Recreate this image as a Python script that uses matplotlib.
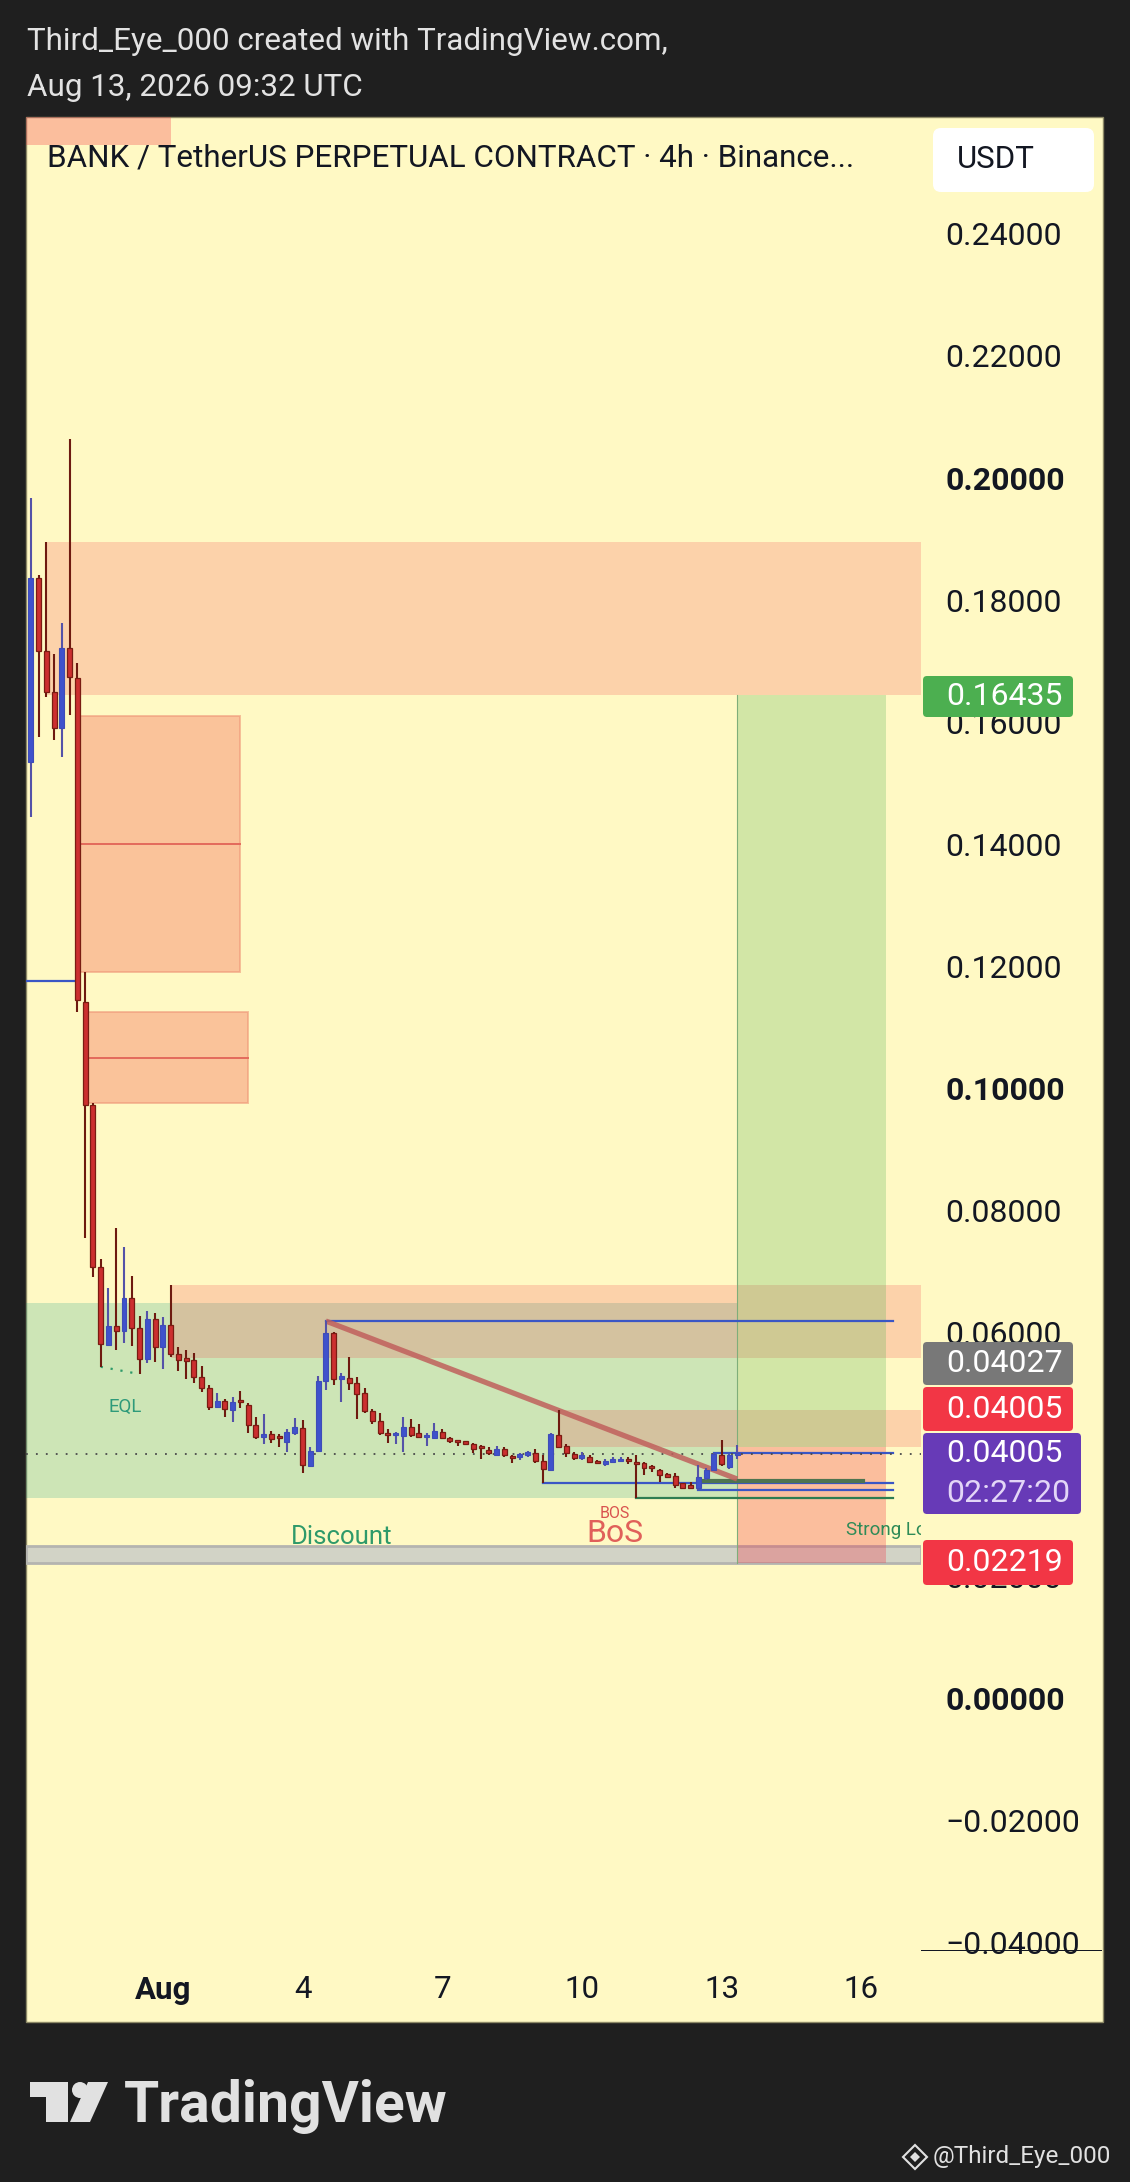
import matplotlib
matplotlib.use("Agg")
import matplotlib.pyplot as plt
import matplotlib.dates as mdates
from matplotlib.patches import Rectangle, FancyBboxPatch, Polygon, Circle
import numpy as np
import pandas as pd

plt.rcParams['font.family'] = ['Roboto', 'DejaVu Sans']

# BANK / USDT perpetual, 4h bars starting 29 Jul 04:00 UTC
first_bar = "2026-07-29 04:00"
opens = [0.1534, 0.1836, 0.1716, 0.1649, 0.1590, 0.1721, 0.1672, 0.1141, 0.0972, 0.0707,
         0.0579, 0.0610, 0.0602, 0.0656, 0.0607, 0.0556, 0.0621, 0.0575, 0.0611, 0.0564,
         0.0557, 0.0554, 0.0526, 0.0508, 0.0477, 0.0487, 0.0472, 0.0489, 0.0480, 0.0448,
         0.0428, 0.0433, 0.0428, 0.0420, 0.0434, 0.0443, 0.0380, 0.0405, 0.0520, 0.0598,
         0.0523, 0.0525, 0.0516, 0.0500, 0.0470, 0.0454, 0.0434, 0.0431, 0.0430, 0.0444,
         0.0434, 0.0428, 0.0426, 0.0436, 0.0426, 0.0423, 0.0421, 0.0416, 0.0413, 0.0407,
         0.0398, 0.0408, 0.0397, 0.0395, 0.0398, 0.0402, 0.0389, 0.0374, 0.0431, 0.0413,
         0.0400, 0.0393, 0.0395, 0.0389, 0.0384, 0.0387, 0.0389, 0.0392, 0.0387, 0.0385,
         0.0379, 0.0374, 0.0367, 0.0364, 0.0352, 0.0349, 0.0344, 0.0361, 0.0374, 0.0398,
         0.0379, 0.0398]
highs = [0.1967, 0.1841, 0.1895, 0.1711, 0.1762, 0.2064, 0.1697, 0.1190, 0.0975, 0.0720,
         0.0672, 0.0770, 0.0739, 0.0692, 0.0626, 0.0634, 0.0631, 0.0625, 0.0677, 0.0575,
         0.0570, 0.0566, 0.0544, 0.0513, 0.0500, 0.0490, 0.0493, 0.0503, 0.0484, 0.0461,
         0.0466, 0.0438, 0.0433, 0.0441, 0.0459, 0.0456, 0.0411, 0.0528, 0.0618, 0.0600,
         0.0533, 0.0559, 0.0526, 0.0508, 0.0474, 0.0467, 0.0441, 0.0436, 0.0461, 0.0457,
         0.0449, 0.0434, 0.0451, 0.0441, 0.0428, 0.0423, 0.0421, 0.0418, 0.0415, 0.0411,
         0.0413, 0.0411, 0.0398, 0.0402, 0.0405, 0.0408, 0.0398, 0.0434, 0.0472, 0.0416,
         0.0403, 0.0403, 0.0398, 0.0390, 0.0392, 0.0395, 0.0395, 0.0395, 0.0398, 0.0387,
         0.0382, 0.0375, 0.0369, 0.0369, 0.0352, 0.0354, 0.0382, 0.0377, 0.0402, 0.0423,
         0.0400, 0.0415]
lows = [0.1444, 0.1575, 0.1641, 0.1570, 0.1543, 0.1611, 0.1125, 0.0754, 0.0690, 0.0543,
        0.0577, 0.0570, 0.0582, 0.0577, 0.0531, 0.0549, 0.0551, 0.0539, 0.0559, 0.0536,
        0.0523, 0.0516, 0.0502, 0.0472, 0.0475, 0.0461, 0.0452, 0.0475, 0.0434, 0.0425,
        0.0416, 0.0418, 0.0411, 0.0403, 0.0431, 0.0369, 0.0379, 0.0403, 0.0505, 0.0513,
        0.0485, 0.0505, 0.0457, 0.0467, 0.0449, 0.0431, 0.0418, 0.0416, 0.0403, 0.0428,
        0.0426, 0.0413, 0.0425, 0.0425, 0.0418, 0.0413, 0.0415, 0.0402, 0.0392, 0.0398,
        0.0397, 0.0395, 0.0385, 0.0390, 0.0395, 0.0385, 0.0353, 0.0372, 0.0410, 0.0395,
        0.0390, 0.0390, 0.0385, 0.0384, 0.0380, 0.0385, 0.0387, 0.0384, 0.0328, 0.0366,
        0.0370, 0.0354, 0.0362, 0.0344, 0.0344, 0.0344, 0.0341, 0.0357, 0.0372, 0.0380,
        0.0375, 0.0392]
closes = [0.1836, 0.1716, 0.1649, 0.1590, 0.1721, 0.1674, 0.1144, 0.0972, 0.0707, 0.0580,
          0.0610, 0.0602, 0.0656, 0.0607, 0.0556, 0.0621, 0.0575, 0.0611, 0.0564, 0.0554,
          0.0552, 0.0526, 0.0508, 0.0477, 0.0487, 0.0474, 0.0485, 0.0485, 0.0448, 0.0428,
          0.0433, 0.0425, 0.0426, 0.0436, 0.0444, 0.0382, 0.0405, 0.0520, 0.0598, 0.0523,
          0.0528, 0.0516, 0.0498, 0.0470, 0.0454, 0.0434, 0.0431, 0.0434, 0.0444, 0.0431,
          0.0428, 0.0431, 0.0438, 0.0426, 0.0421, 0.0420, 0.0416, 0.0408, 0.0410, 0.0402,
          0.0408, 0.0398, 0.0393, 0.0400, 0.0403, 0.0389, 0.0375, 0.0433, 0.0411, 0.0402,
          0.0393, 0.0398, 0.0387, 0.0385, 0.0389, 0.0392, 0.0392, 0.0389, 0.0384, 0.0377,
          0.0377, 0.0366, 0.0362, 0.0349, 0.0344, 0.0344, 0.0362, 0.0374, 0.0400, 0.0384,
          0.0398, 0.04005]

# drawings on the chart
supply_starts = ["2026-07-29 12:00", "2026-08-01 04:00", "2026-08-09 12:00"]
supply_lows = [0.16435, 0.0557, 0.0411]
supply_highs = [0.1895, 0.0677, 0.0472]
ob_starts = ["2026-07-30 04:00", "2026-07-30 08:00"]
ob_ends = ["2026-08-02 16:00", "2026-08-02 20:00"]
ob_lows = [0.1190, 0.0975]
ob_highs = [0.1610, 0.1125]
discount_low, discount_high = 0.0328, 0.0648
grey_low, grey_high = 0.0222, 0.0249
entry, target, stop = 0.0411, 0.16435, 0.02219
last_price = 0.04005

price_ticks = [-0.04, -0.02, 0.00, 0.02, 0.04, 0.06, 0.08, 0.10, 0.12, 0.14, 0.16, 0.18, 0.20, 0.22, 0.24]
bold_ticks = [0.00, 0.10, 0.20]
day_ticks = ["2026-08-01", "2026-08-04", "2026-08-07", "2026-08-10", "2026-08-13", "2026-08-16"]
day_labels = ["Aug", "4", "7", "10", "13", "16"]

BG = "#1f1f1f"
PANEL = "#fff9c4"
INK = "#131722"
RED = "#f23645"
BLUE_LINE = "#3a56c5"


def num(s):
    return mdates.date2num(pd.Timestamp(s))


times = pd.date_range(first_bar, periods=len(opens), freq="4h")
x = mdates.date2num(times)
o, h, l, c = (np.array(v) for v in (opens, highs, lows, closes))
x_left, x_right = num("2026-07-29 01:30"), num("2026-08-17 06:45")

fig = plt.figure(figsize=(11.3, 21.82), dpi=100, facecolor=BG)
fig.patches.append(Rectangle((26 / 1130, 1 - 2022 / 2182), 1077 / 1130, 1905 / 2182,
                             transform=fig.transFigure, facecolor=PANEL, edgecolor="#8c8866",
                             lw=1, zorder=-10))

ax = fig.add_axes([26 / 1130, 1 - 1950 / 2182, 895 / 1130, 1833 / 2182], zorder=2)
ax.set_facecolor("none")
ax.set_xlim(x_left, x_right)
ax.set_ylim(-0.04131, 0.25918)
for s in ax.spines.values():
    s.set_visible(False)


def box(t0, t1, lo, hi, **kw):
    ax.add_patch(Rectangle((t0, lo), t1 - t0, hi - lo, **kw))


# zones
box(x_left, num("2026-08-01 04:00"), 0.2546, 0.30, facecolor=RED, alpha=0.3, lw=0, zorder=1)
box(x_left, num("2026-08-13 08:00"), discount_low, discount_high, facecolor="#089981", alpha=0.2, lw=0, zorder=1)
for s0, lo, hi in zip(supply_starts, supply_lows, supply_highs):
    box(num(s0), x_right, lo, hi, facecolor=RED, alpha=0.2, lw=0, zorder=1.2)
box(x_left, x_right, grey_low, grey_high, facecolor="#d2d3c6", edgecolor="#b4b4b0", lw=2, zorder=1.3)
for s0, s1, lo, hi in zip(ob_starts, ob_ends, ob_lows, ob_highs):
    box(num(s0), num(s1), lo, hi, facecolor="#f8a07e", alpha=0.6, edgecolor="#ee9778", lw=1.4, zorder=1.5)
    ax.plot([num(s0), num(s1)], [(lo + hi) / 2] * 2, color="#e36a5c", lw=1.4, zorder=1.6)

# long position tool
t_pos0, t_pos1 = num("2026-08-13 08:00"), num("2026-08-16 12:45")
box(t_pos0, t_pos1, entry, target, facecolor="#4caf50", alpha=0.25, lw=0, zorder=1.4)
box(t_pos0, t_pos1, stop, entry, facecolor=RED, alpha=0.3, lw=0, zorder=1.4)
ax.plot([t_pos0, t_pos0], [stop, target], color="#7fae7a", lw=0.8, zorder=1.45)

# levels
ray_end = num("2026-08-16 16:20")
ax.plot([x_left, num("2026-07-30 04:00")], [0.1175, 0.1175], color=BLUE_LINE, lw=1.6, zorder=3)
ax.plot([num("2026-08-04 12:00"), ray_end], [0.0618, 0.0618], color=BLUE_LINE, lw=1.6, zorder=3)
ax.plot([num("2026-08-09 04:00"), ray_end], [0.0353, 0.0353], color=BLUE_LINE, lw=1.6, zorder=3)
ax.plot([num("2026-08-12 12:00"), ray_end], [0.0341, 0.0341], color=BLUE_LINE, lw=1.6, zorder=3)
ax.plot([num("2026-08-12 20:00"), ray_end], [0.0402, 0.0402], color=BLUE_LINE, lw=1.6, zorder=3)
ax.plot([num("2026-08-11 04:00"), ray_end], [0.0328, 0.0328], color="#2f7d52", lw=1.6, zorder=3)
ax.plot([num("2026-08-12 12:00"), num("2026-08-16 01:00")], [0.0356, 0.0356], color="#4d7450", lw=3, zorder=3)
ax.plot([x_left, x_right], [last_price, last_price], color="#4a4a4a", lw=1.3, ls=(0, (1, 4.5)), zorder=3)
ax.plot([num("2026-07-30 16:00"), num("2026-07-31 12:00")], [0.0543, 0.0531], color="#2e9a6a", lw=1.6,
        ls=(0, (1, 3.5)), zorder=3)
ax.plot([num("2026-08-04 12:00"), num("2026-08-13 08:00")], [0.0618, 0.0359], color="#c0605c", lw=3.8,
        alpha=0.85, solid_capstyle="butt", zorder=4)

# candles
up = c >= o
w = 4 / 24 * 0.64
body = np.maximum(np.abs(c - o), 0.0003)
ax.vlines(x[up], l[up], h[up], color="#5452a8", lw=1.5, zorder=5)
ax.vlines(x[~up], l[~up], h[~up], color="#6e1a10", lw=1.5, zorder=5)
ax.bar(x[up], body[up], bottom=np.minimum(o, c)[up], width=w, color="#3f52cc", edgecolor="#3f4cb8",
       lw=0.8, zorder=6)
ax.bar(x[~up], body[~up], bottom=np.minimum(o, c)[~up], width=w, color="#cc2f2f", edgecolor="#7a1c12",
       lw=0.9, zorder=6)

# chart text
ax.text(num("2026-07-31 04:30"), 0.0477, "EQL", color="#2e9a7a", fontsize=13.5, ha="center", va="center", zorder=7)
ax.text(num("2026-08-04 20:00"), 0.0264, "Discount", color="#2e9a6a", fontsize=18.5, ha="center", va="center", zorder=7)
ax.text(num("2026-08-10 17:00"), 0.0302, "BOS", color="#d9534f", fontsize=11.5, ha="center", va="center", zorder=7)
ax.text(num("2026-08-10 17:00"), 0.0269, "BoS", color="#e0605a", fontsize=23, ha="center", va="center", zorder=7)
ax.text(num("2026-08-15 16:00"), 0.0275, "Strong Low", color="#2e8b57", fontsize=13.5, ha="left", va="center",
        zorder=7, clip_on=True)

# axes ticks
ax.yaxis.tick_right()
ax.set_yticks(price_ticks)
ax.set_yticklabels([f"{v:.5f}".replace("-", "\u2212") for v in price_ticks])
ax.tick_params(axis="y", length=0, pad=17.5, labelsize=23, labelcolor=INK)
for v, lab in zip(price_ticks, ax.get_yticklabels()):
    if any(abs(v - b) < 1e-9 for b in bold_ticks):
        lab.set_fontweight("bold")
ax.set_xticks([num(d) for d in day_ticks])
ax.set_xticklabels(day_labels)
ax.tick_params(axis="x", length=0, pad=18, labelsize=22.5, labelcolor=INK)
ax.get_xticklabels()[0].set_fontweight("bold")

# overlay in pixel space
ov = fig.add_axes([0, 0, 1, 1], zorder=5)
ov.set_xlim(0, 1130)
ov.set_ylim(2182, 0)
ov.axis("off")
ov.patch.set_alpha(0)

ov.text(27, 42, "Third_Eye_000 created with TradingView.com,", color="#e2e2e2", fontsize=22.6, va="center")
ov.text(27, 87, "Aug 13, 2026 09:32 UTC", color="#e2e2e2", fontsize=22.6, va="center")
ov.text(47, 158, "BANK / TetherUS PERPETUAL CONTRACT \u00b7 4h \u00b7 Binance...", color=INK, fontsize=22.6,
        va="center")
ov.add_patch(FancyBboxPatch((933, 128), 161, 64, boxstyle="round,pad=0,rounding_size=8",
                            facecolor="white", edgecolor="none"))
ov.text(957, 160, "USDT", color=INK, fontsize=22.5, va="center")
ov.add_patch(Rectangle((921, 1949.5), 181, 1.2, facecolor=INK, edgecolor="none"))


def price_label(y0, y1, color, lines, x1=1073):
    ov.add_patch(FancyBboxPatch((923, y0), x1 - 923, y1 - y0, boxstyle="round,pad=0,rounding_size=4",
                                facecolor=color, edgecolor="none"))
    n = len(lines)
    for i, (txt, col) in enumerate(lines):
        yy = y0 + (y1 - y0) * (i + 0.5) / n
        ov.text(946, yy, txt, color=col, fontsize=23, va="center")


price_label(676, 717, "#4caf50", [("0.16435", "white")])
price_label(1342, 1385, "#787878", [("0.04027", "white")])
price_label(1387, 1431, RED, [("0.04005", "white")])
price_label(1433, 1514, "#673ab7", [("0.04005", "white"), ("02:27:20", "#e3d6f7")], x1=1081)
price_label(1540, 1585, RED, [("0.02219", "white")])

# TradingView logo
logo = "#e1e1e1"
ov.add_patch(Polygon([(30, 2082), (68, 2082), (68, 2122), (46, 2122), (46, 2097), (30, 2097)], facecolor=logo))
ov.add_patch(Circle((80, 2090), 8, facecolor=logo))
ov.add_patch(Polygon([(88, 2082), (108, 2082), (90, 2122), (70, 2122)], facecolor=logo))
ov.text(124, 2122, "TradingView", color=logo, fontsize=41, fontweight="bold", va="baseline")
ov.add_patch(Polygon([(915, 2145), (927, 2157), (915, 2169), (903, 2157)], facecolor="none", edgecolor=logo, lw=1.5))
ov.add_patch(Polygon([(915, 2152), (920, 2157), (915, 2162), (910, 2157)], facecolor=logo))
ov.text(933, 2157, "@Third_Eye_000", color=logo, fontsize=17.5, va="center")

fig.savefig("out.png", dpi=100, facecolor=BG)
